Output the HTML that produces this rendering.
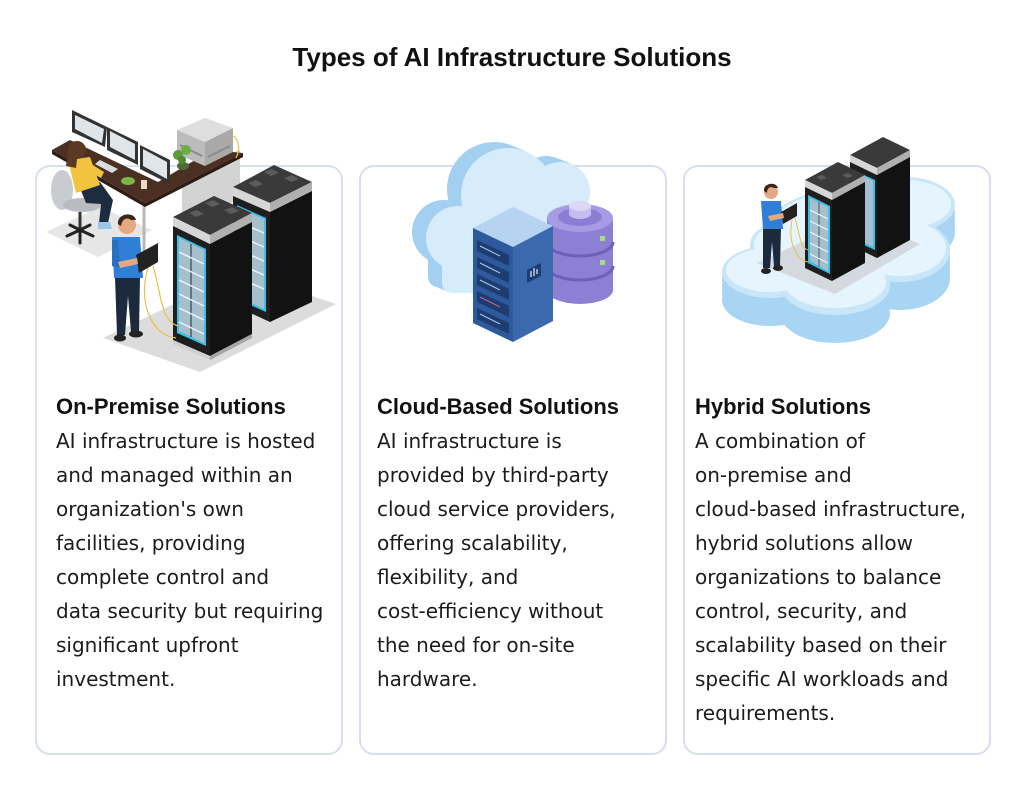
<!DOCTYPE html>
<html><head><meta charset="utf-8">
<style>
html,body{margin:0;padding:0;background:#fff;}
body{width:1024px;height:793px;position:relative;overflow:hidden;}
.title{position:absolute;left:0;width:1024px;top:40px;text-align:center;font:bold 26px/34px "Liberation Sans",sans-serif;color:#111;}
.card{position:absolute;top:165px;width:308px;height:590px;box-sizing:border-box;border:2px solid #d9ddf1;border-radius:15px;background:#fff;}
.txt{position:absolute;top:390px;font-family:"DejaVu Sans",sans-serif;font-size:20px;line-height:34px;color:#1c1c1c;white-space:nowrap;}
.txt b{font-family:"Liberation Sans",sans-serif;font-weight:bold;font-size:22px;color:#111;display:block;}
svg{position:absolute;left:0;top:0;}
</style></head>
<body>
<div class="title">Types of AI Infrastructure Solutions</div>
<div class="card" style="left:35px;border-color:#d8e0ee"></div>
<div class="card" style="left:359px"></div>
<div class="card" style="left:683px"></div>

<svg width="1024" height="793" viewBox="0 0 1024 793">
<!-- ============ CARD 1 ============ -->
<polygon points="46,232 100,207 152,230 98,257" fill="#e6e6e6"/>
<polygon points="103,338 240,272 336,304 200,372" fill="#dcdcdc"/>
<polygon points="182,170 240,150 240,200 182,218" fill="#d3d3d3"/>
<line x1="144" y1="200" x2="144" y2="252" stroke="#b8b8b8" stroke-width="3"/>
<polygon points="52,150 145,203 243,153 243,157 145,207 52,154" fill="#2e1d15"/>
<polygon points="52,150 70,140 158,182 212,150 243,153 145,203" fill="#4a2f22"/>
<polygon points="177,130 205,118 233,128 205,142" fill="#dedede"/>
<polygon points="177,130 205,142 205,166 177,154" fill="#bcbcbc"/>
<polygon points="205,142 233,128 233,152 205,166" fill="#a9a9a9"/>
<line x1="180" y1="145" x2="202" y2="156" stroke="#8a8a8a" stroke-width="2"/>
<line x1="208" y1="157" x2="230" y2="146" stroke="#8a8a8a" stroke-width="2"/>
<path d="M232,135 C240,140 240,150 236,158" stroke="#e6c24b" stroke-width="1.2" fill="none"/>
<ellipse cx="183" cy="166" rx="6" ry="4" fill="#4d6b3a"/>
<circle cx="178" cy="155" r="5" fill="#5f9a3b"/>
<circle cx="186" cy="150" r="5" fill="#6cae44"/>
<circle cx="182" cy="160" r="4" fill="#4f8a32"/>
<polygon points="72,110 107,127 105,147 72,132" fill="#333"/>
<polygon points="75,115 104,129 102,143 75,129" fill="#e0e5ea"/>
<polygon points="107,127 138,142 138,165 107,150" fill="#333"/>
<polygon points="110,131 135,144 135,160 110,147" fill="#e0e5ea"/>
<polygon points="140,145 170,160 170,184 140,169" fill="#333"/>
<polygon points="143,149 167,162 167,179 143,166" fill="#e0e5ea"/>
<polygon points="100,160 118,169 112,173 95,164" fill="#d9dde1"/>
<ellipse cx="128" cy="181" rx="7" ry="4" fill="#7ab648"/>
<rect x="141" y="180" width="6" height="9" fill="#e8dcc7"/>
<line x1="80" y1="212" x2="80" y2="229" stroke="#333" stroke-width="3"/>
<g stroke="#222" stroke-width="3" stroke-linecap="round">
<line x1="80" y1="230" x2="67" y2="236"/><line x1="80" y1="230" x2="93" y2="236"/>
<line x1="80" y1="230" x2="80" y2="243"/><line x1="80" y1="230" x2="70" y2="225"/><line x1="80" y1="230" x2="90" y2="225"/>
</g>
<ellipse cx="62" cy="190" rx="11" ry="20" fill="#c8ccd0"/>
<ellipse cx="82" cy="205" rx="19" ry="7" fill="#b8bcc0"/>
<polygon points="80,188 100,182 113,200 108,223 99,223 101,204 86,203" fill="#1e2c40"/>
<polygon points="98,222 110,222 112,229 98,229" fill="#9cc7ea"/>
<polygon points="68,160 90,157 100,185 76,193" fill="#f1c33f"/>
<polygon points="88,162 104,172 101,178 86,170" fill="#f1c33f"/>
<circle cx="77" cy="150" r="9" fill="#5a3a22"/>
<polygon points="68,150 78,150 76,168 66,166" fill="#5a3a22"/>
<!-- rack 2 -->
<polygon points="233,187 270,203 312,182 274,165" fill="#3a3a3a"/>
<polygon points="248,183 256,180 263,184 255,187" fill="#5c5c5c"/>
<polygon points="284,178 292,175 299,179 291,182" fill="#5c5c5c"/>
<polygon points="264,172 272,169 279,173 271,176" fill="#5c5c5c"/>
<polygon points="233,187 270,203 270,212 233,196" fill="#d6d6d6"/>
<polygon points="270,203 312,182 312,191 270,212" fill="#b0b0b0"/>
<polygon points="233,196 270,212 270,322 233,305" fill="#1e1e1e"/>
<polygon points="270,212 312,191 312,302 270,322" fill="#121212"/>
<polygon points="237,205 266,218 266,312 237,299" fill="#3cc0e8"/>
<polygon points="239,208 264,219 264,309 239,297" fill="#a6bfcc"/>
<g stroke="#eef5f8" stroke-width="1.5">
<line x1="239" y1="222" x2="264" y2="233"/><line x1="239" y1="236" x2="264" y2="247"/><line x1="239" y1="250" x2="264" y2="261"/>
<line x1="239" y1="264" x2="264" y2="275"/><line x1="239" y1="278" x2="264" y2="289"/>
</g>
<!-- rack 1 -->
<polygon points="173,217 210,235 252,213 214,196" fill="#3a3a3a"/>
<polygon points="189,213 197,210 204,214 196,217" fill="#5c5c5c"/>
<polygon points="224,210 232,207 239,211 231,214" fill="#5c5c5c"/>
<polygon points="205,203 213,200 220,204 212,207" fill="#5c5c5c"/>
<polygon points="173,217 210,235 210,244 173,226" fill="#d6d6d6"/>
<polygon points="210,235 252,213 252,222 210,244" fill="#b0b0b0"/>
<polygon points="173,226 210,244 210,356 173,340" fill="#1e1e1e"/>
<polygon points="210,244 252,222 252,334 210,356" fill="#121212"/>
<polygon points="173,340 210,356 210,360 173,344" fill="#cfcfcf"/>
<polygon points="210,356 252,334 252,338 210,360" fill="#a5a5a5"/>
<polygon points="177,235 206,249 206,346 177,333" fill="#3cc0e8"/>
<polygon points="179,238 204,250 204,343 179,331" fill="#a6bfcc"/>
<line x1="191" y1="244" x2="191" y2="337" stroke="#4b5a62" stroke-width="1.5"/>
<g stroke="#eef5f8" stroke-width="1.5">
<line x1="179" y1="252" x2="204" y2="264"/><line x1="179" y1="266" x2="204" y2="278"/><line x1="179" y1="280" x2="204" y2="292"/>
<line x1="179" y1="294" x2="204" y2="306"/><line x1="179" y1="308" x2="204" y2="320"/><line x1="179" y1="322" x2="204" y2="334"/>
</g>
<path d="M148,268 C138,300 150,335 176,338" stroke="#e6c24b" stroke-width="1.2" fill="none"/>
<path d="M153,266 C162,295 160,320 178,326" stroke="#e6c24b" stroke-width="1.2" fill="none"/>
<polygon points="115,277 140,277 139,332 131,332 128,296 125,335 117,335" fill="#1b2a3c"/>
<ellipse cx="120" cy="338" rx="6" ry="3.5" fill="#222"/>
<ellipse cx="136" cy="334" rx="7" ry="3.5" fill="#222"/>
<polygon points="112,237 140,237 143,278 114,278" fill="#2f7fd6"/>
<polygon points="112,240 118,240 120,268 112,266" fill="#2a6fc0"/>
<circle cx="127" cy="225" r="9" fill="#e2a984"/>
<path d="M118,224 C117,213 134,211 136,220 L131,220 C128,217 122,218 121,226 Z" fill="#3b2418"/>
<polygon points="136,255 158,243 158,262 139,273" fill="#222"/>
<polygon points="118,262 137,258 138,264 120,268" fill="#e2a984"/>

<!-- ============ CARD 2 ============ -->
<g fill="#a3d0f1">
<g transform="translate(-14,-6)">
<circle cx="508" cy="195" r="47"/><circle cx="458" cy="238" r="32"/><circle cx="560" cy="192" r="30"/><circle cx="585" cy="226" r="18"/><rect x="442" y="236" width="148" height="57" rx="10"/>
</g>
<g transform="translate(-9,-4)">
<circle cx="508" cy="195" r="47"/><circle cx="458" cy="238" r="32"/><circle cx="560" cy="192" r="30"/><circle cx="585" cy="226" r="18"/><rect x="442" y="236" width="148" height="57" rx="10"/>
</g>
<g transform="translate(-4,-2)">
<circle cx="508" cy="195" r="47"/><circle cx="458" cy="238" r="32"/><circle cx="560" cy="192" r="30"/><circle cx="585" cy="226" r="18"/><rect x="442" y="236" width="148" height="57" rx="10"/>
</g>
</g>
<g fill="#d6ecfb">
<circle cx="508" cy="195" r="47"/><circle cx="458" cy="238" r="32"/><circle cx="560" cy="192" r="30"/><circle cx="585" cy="226" r="18"/><rect x="442" y="236" width="148" height="57" rx="10"/>
</g>
<rect x="547" y="218" width="66" height="72" fill="#8d80d4"/>
<ellipse cx="580" cy="290" rx="33" ry="14" fill="#8d80d4"/>
<path d="M547,242 A33,14 0 0 0 613,242" stroke="#6c5fb8" stroke-width="3" fill="none"/>
<path d="M547,266 A33,14 0 0 0 613,266" stroke="#6c5fb8" stroke-width="3" fill="none"/>
<ellipse cx="580" cy="218" rx="33" ry="14" fill="#a89be6"/>
<ellipse cx="580" cy="217" rx="22" ry="9" fill="#8a7dd3"/>
<rect x="569" y="206" width="22" height="8" fill="#c5bcef"/>
<ellipse cx="580" cy="214" rx="11" ry="5" fill="#c5bcef"/>
<ellipse cx="580" cy="206" rx="11" ry="5" fill="#ddd7f7"/>
<rect x="600" y="236" width="5" height="5" fill="#a6e07a"/>
<rect x="600" y="260" width="5" height="5" fill="#a6e07a"/>
<polygon points="473,228 513,247 553,226 513,207" fill="#b7d3f2"/>
<polygon points="473,228 513,247 513,342 473,323" fill="#2d5a9c"/>
<polygon points="513,247 553,226 553,321 513,342" fill="#3c68ad"/>
<g fill="#1d3c70">
<polygon points="477,240 509,255 509,266 477,251"/>
<polygon points="477,257 509,272 509,283 477,268"/>
<polygon points="477,274 509,289 509,300 477,285"/>
<polygon points="477,291 509,306 509,317 477,302"/>
<polygon points="477,308 509,323 509,334 477,319"/>
</g>
<g stroke="#a9c8ef" stroke-width="1">
<line x1="480" y1="246" x2="500" y2="256"/><line x1="480" y1="263" x2="500" y2="273"/><line x1="480" y1="280" x2="500" y2="290"/>
<line x1="480" y1="297" x2="500" y2="307" stroke="#d0608a"/><line x1="480" y1="314" x2="500" y2="324"/>
</g>
<polygon points="527,270 541,263 541,276 527,283" fill="#1d3c70"/>
<g stroke="#e6eefb" stroke-width="1.2"><line x1="531" y1="277" x2="531" y2="271"/><line x1="534" y1="276" x2="534" y2="268"/><line x1="537" y1="274" x2="537" y2="269"/></g>

<!-- ============ CARD 3 ============ -->
<g fill="#a8d5f3">
<g transform="translate(0,28)"><ellipse cx="770" cy="272" rx="48" ry="26"/><ellipse cx="835" cy="285" rx="55" ry="30"/><ellipse cx="900" cy="250" rx="50" ry="32"/><ellipse cx="905" cy="205" rx="50" ry="28"/><ellipse cx="840" cy="235" rx="75" ry="45"/><ellipse cx="790" cy="245" rx="40" ry="25"/></g>
<g transform="translate(0,21)"><ellipse cx="770" cy="272" rx="48" ry="26"/><ellipse cx="835" cy="285" rx="55" ry="30"/><ellipse cx="900" cy="250" rx="50" ry="32"/><ellipse cx="905" cy="205" rx="50" ry="28"/><ellipse cx="840" cy="235" rx="75" ry="45"/><ellipse cx="790" cy="245" rx="40" ry="25"/></g>
<g transform="translate(0,14)"><ellipse cx="770" cy="272" rx="48" ry="26"/><ellipse cx="835" cy="285" rx="55" ry="30"/><ellipse cx="900" cy="250" rx="50" ry="32"/><ellipse cx="905" cy="205" rx="50" ry="28"/><ellipse cx="840" cy="235" rx="75" ry="45"/><ellipse cx="790" cy="245" rx="40" ry="25"/></g>
<g transform="translate(0,7)"><ellipse cx="770" cy="272" rx="48" ry="26"/><ellipse cx="835" cy="285" rx="55" ry="30"/><ellipse cx="900" cy="250" rx="50" ry="32"/><ellipse cx="905" cy="205" rx="50" ry="28"/><ellipse cx="840" cy="235" rx="75" ry="45"/><ellipse cx="790" cy="245" rx="40" ry="25"/></g>
</g>
<g fill="#c9e6f9"><ellipse cx="770" cy="272" rx="48" ry="26"/><ellipse cx="835" cy="285" rx="55" ry="30"/><ellipse cx="900" cy="250" rx="50" ry="32"/><ellipse cx="905" cy="205" rx="50" ry="28"/><ellipse cx="840" cy="235" rx="75" ry="45"/><ellipse cx="790" cy="245" rx="40" ry="25"/></g>
<g fill="#e6f4fd"><ellipse cx="770" cy="270" rx="44" ry="22"/><ellipse cx="835" cy="282" rx="51" ry="26"/><ellipse cx="900" cy="248" rx="46" ry="28"/><ellipse cx="905" cy="204" rx="46" ry="24"/><ellipse cx="840" cy="233" rx="71" ry="41"/><ellipse cx="790" cy="244" rx="36" ry="21"/></g>
<polygon points="757,263 858,216 920,244 835,294" fill="#d3d9de"/>
<polygon points="850,155 877,168 910,150 883,137" fill="#3a3a3a"/>
<polygon points="850,155 877,168 877,175 850,162" fill="#d6d6d6"/>
<polygon points="877,168 910,150 910,157 877,175" fill="#b0b0b0"/>
<polygon points="850,162 877,175 877,258 850,245" fill="#1e1e1e"/>
<polygon points="877,175 910,157 910,240 877,258" fill="#121212"/>
<polygon points="853,170 875,180 875,250 853,240" fill="#3cc0e8"/>
<polygon points="855,172 873,181 873,247 855,238" fill="#a6bfcc"/>
<polygon points="805,180 832,193 865,175 838,162" fill="#3a3a3a"/>
<polygon points="816,177 822,175 827,178 821,180" fill="#5c5c5c"/>
<polygon points="842,175 848,173 853,176 847,178" fill="#5c5c5c"/>
<polygon points="805,180 832,193 832,200 805,187" fill="#d6d6d6"/>
<polygon points="832,193 865,175 865,182 832,200" fill="#b0b0b0"/>
<polygon points="805,187 832,200 832,281 805,268" fill="#1e1e1e"/>
<polygon points="832,200 865,182 865,263 832,281" fill="#121212"/>
<polygon points="808,195 830,206 830,274 808,263" fill="#3cc0e8"/>
<polygon points="810,198 828,207 828,271 810,261" fill="#a6bfcc"/>
<line x1="819" y1="202" x2="819" y2="267" stroke="#4b5a62" stroke-width="1"/>
<g stroke="#eef5f8" stroke-width="1.2">
<line x1="810" y1="210" x2="828" y2="219"/><line x1="810" y1="221" x2="828" y2="230"/><line x1="810" y1="232" x2="828" y2="241"/><line x1="810" y1="243" x2="828" y2="252"/><line x1="810" y1="254" x2="828" y2="263"/>
</g>
<path d="M792,220 C788,240 795,260 808,262" stroke="#e6c24b" stroke-width="1" fill="none"/>
<path d="M795,218 C800,235 800,248 808,250" stroke="#e6c24b" stroke-width="1" fill="none"/>
<polygon points="763,228 781,228 780,266 774,266 772,242 770,268 763,268" fill="#1b2a3c"/>
<ellipse cx="766" cy="271" rx="5" ry="3" fill="#222"/>
<ellipse cx="778" cy="268" rx="5" ry="3" fill="#222"/>
<polygon points="761,201 781,201 783,229 763,229" fill="#2f7fd6"/>
<circle cx="771" cy="192" r="7" fill="#e2a984"/>
<path d="M764,191 C763,183 776,181 778,188 L774,188 C771,186 767,187 767,193 Z" fill="#3b2418"/>
<polygon points="781,212 797,203 797,216 783,224" fill="#222"/>
<polygon points="768,216 783,213 784,218 770,221" fill="#e2a984"/>
</svg>

<div class="txt" style="left:56px"><b>On-Premise Solutions</b>AI infrastructure is hosted<br>and managed within an<br>organization's own<br>facilities, providing<br>complete control and<br>data security but requiring<br>significant upfront<br>investment.</div>
<div class="txt" style="left:377px"><b>Cloud-Based Solutions</b>AI infrastructure is<br>provided by third-party<br>cloud service providers,<br>offering scalability,<br>flexibility, and<br>cost-efficiency without<br>the need for on-site<br>hardware.</div>
<div class="txt" style="left:695px"><b>Hybrid Solutions</b>A combination of<br>on-premise and<br>cloud-based infrastructure,<br>hybrid solutions allow<br>organizations to balance<br>control, security, and<br>scalability based on their<br>specific AI workloads and<br>requirements.</div>
</body></html>
